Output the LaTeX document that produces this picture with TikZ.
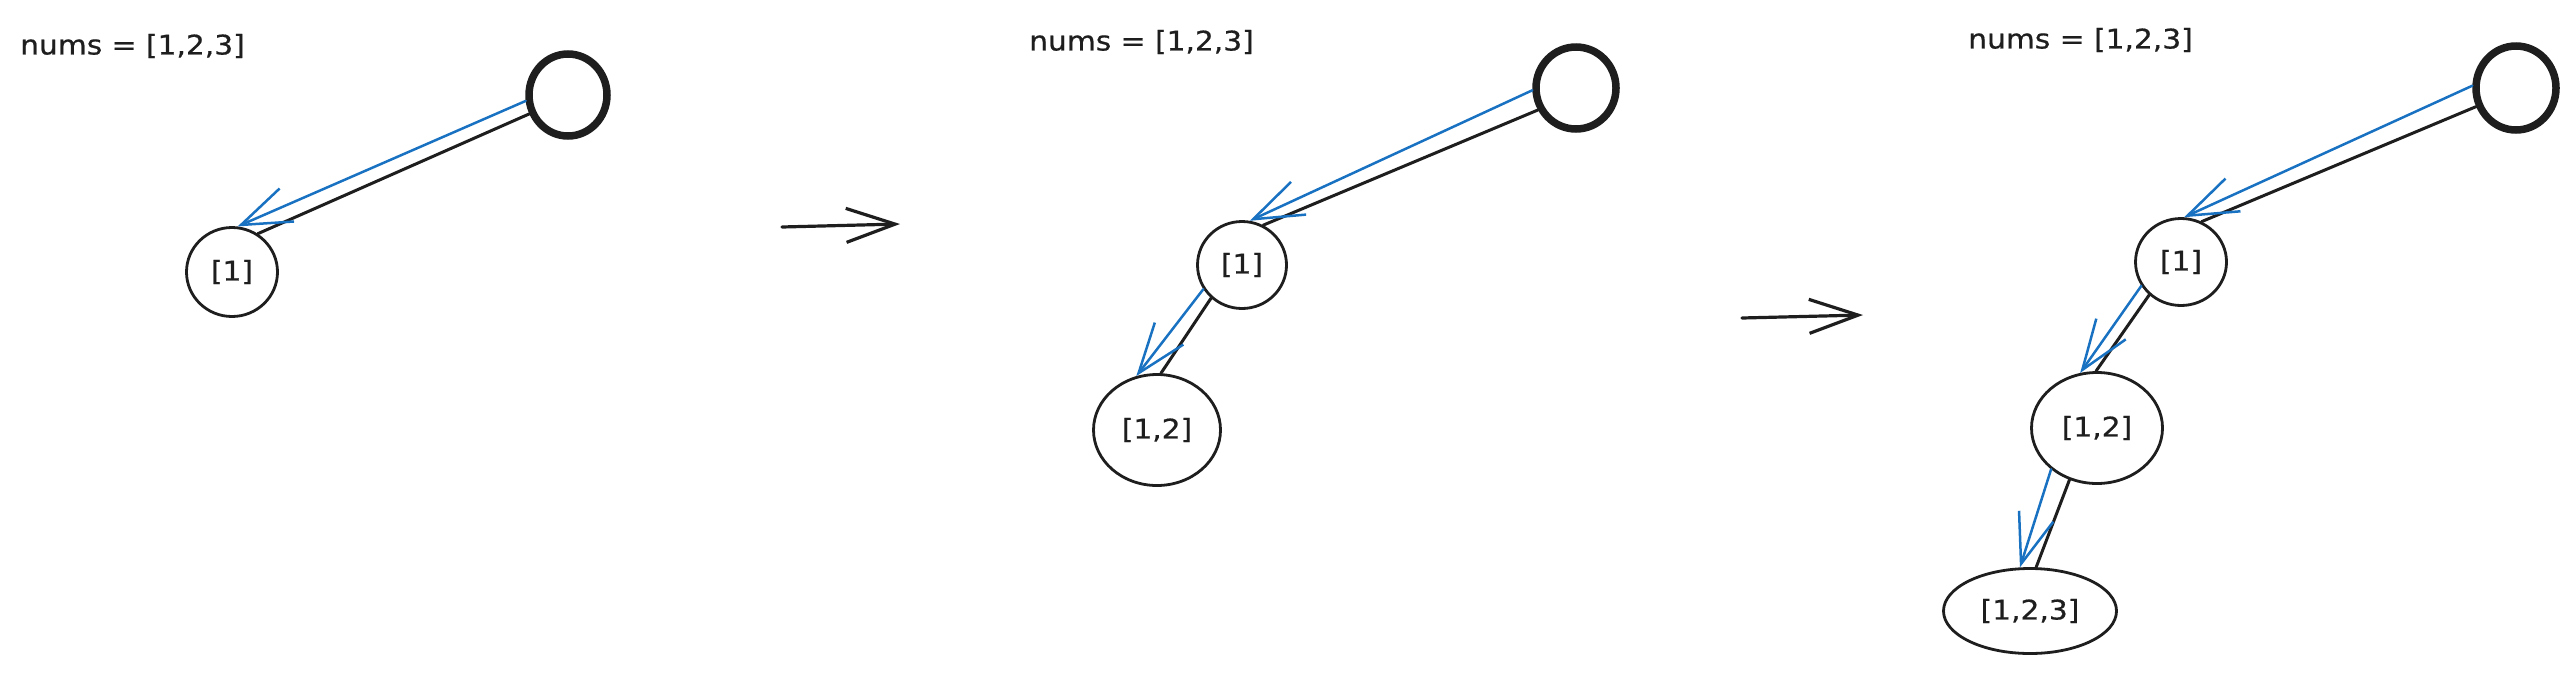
\documentclass[tikz,border=0pt]{standalone}
\usepackage{fontspec}
\newfontfamily\hand[FakeStretch=1.1,FakeBold=0.6]{DejaVu Sans}
\usetikzlibrary{shapes.geometric,arrows.meta}
\definecolor{ink}{HTML}{1E1E1E}
\definecolor{blueline}{HTML}{1971C2}
\tikzset{
  root/.style={ellipse, draw=ink, line width=7.5pt, inner sep=0pt},
  leaf/.style={ellipse, draw=ink, line width=2.8pt, inner sep=0pt, font=\hand\fontsize{27}{30}\selectfont, text=ink},
  title/.style={anchor=west, inner sep=0pt, font=\hand\fontsize{27}{30}\selectfont, text=ink},
  link/.style={draw=ink, line width=3pt, line cap=round},
  move/.style={draw=blueline, line width=2.5pt, line cap=round, -{Straight Barb[length=50pt,width=36pt,line width=2.5pt]}},
  nextarrow/.style={draw=ink, line width=3.2pt, line cap=round, -{Straight Barb[length=49pt,width=34pt,line width=3.2pt]}}
}
\begin{document}
\begin{tikzpicture}[x=1pt,y=-1pt]
\useasboundingbox (0,0) rectangle (2575,673);
% ---------- panel 1 ----------
\node[title] (t1) at (20,46) {nums = [1,2,3]};
\node[root, minimum width=78pt, minimum height=82pt] (r1) at (568,95) {};
\node[leaf, minimum width=91pt, minimum height=89pt] (a1) at (232,272) {[1]};
\draw[link] (r1.206) -- (a1.56);
\draw[move] (r1.188) -- (a1.83);
% arrow 1
\coordinate (s1) at (782,227);
\coordinate (e1) at (900,224);
\draw[nextarrow] (s1) -- (e1);
% ---------- panel 2 ----------
\node[title] (t2) at (1029,42) {nums = [1,2,3]};
\node[root, minimum width=80pt, minimum height=82pt] (r2) at (1576,88) {};
\node[leaf, minimum width=89pt, minimum height=87pt] (a2) at (1242,265) {[1]};
\node[leaf, minimum width=127pt, minimum height=111pt] (b2) at (1157,430) {[1,2]};
\draw[link] (r2.210) -- (a2.62);
\draw[move] (r2.183) -- (a2.80);
\draw[link] (a2.227) -- (b2.86);
\draw[move] (a2.212) -- (b2.111);
% arrow 2
\coordinate (s2) at (1742,318);
\coordinate (e2) at (1863,315);
\draw[nextarrow] (s2) -- (e2);
% ---------- panel 3 ----------
\node[title] (t3) at (1968,40) {nums = [1,2,3]};
\node[root, minimum width=80pt, minimum height=84pt] (r3) at (2516,88) {};
\node[leaf, minimum width=91pt, minimum height=87pt] (a3) at (2181,262) {[1]};
\node[leaf, minimum width=131pt, minimum height=111pt] (b3) at (2097,428) {[1,2]};
\node[leaf, minimum width=173pt, minimum height=85pt] (c3) at (2030,611) {[1,2,3]};
\draw[link] (r3.205) -- (a3.63);
\draw[move] (r3.177) -- (a3.86);
\draw[link] (a3.226) -- (b3.91);
\draw[move] (a3.211) -- (b3.107);
\draw[link] (b3.242) -- (c3.82);
\draw[move] (b3.222) -- (c3.103);
\end{tikzpicture}
\end{document}
